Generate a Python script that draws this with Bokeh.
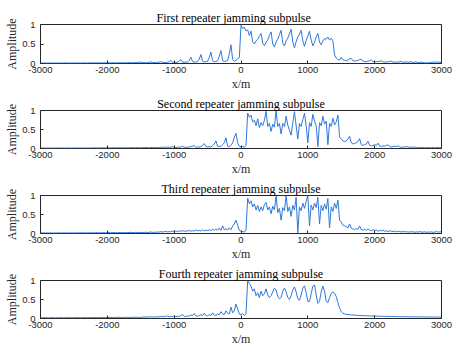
import numpy as np
from bokeh.plotting import figure
from bokeh.layouts import column
from bokeh.models import Range1d, FixedTicker
from bokeh.embed import file_html
from bokeh.resources import INLINE

# ---------------- data ----------------
titles = ["First repeater jamming subpulse", "Second repeater jamming subpulse",
          "Third repeater jamming subpulse", "Fourth repeater jamming subpulse"]
x_ticks = [-3000, -2000, -1000, 0, 1000, 2000, 3000]
x_tick_labels = ["-3000", "-2000", "-1000", "0", "1000", "2000", "3000"]
y_ticks = [0, 0.5, 1]
y_tick_labels = ["0", "0.5", "1"]
x_label = "x/m"
y_label = "Amplitude"

# sample positions (m): -3000 ... 3000, every 25 m
x_m = np.arange(-3000, 3001, 25)

amp_first = [
    0.010, 0.012, 0.010, 0.015, 0.010, 0.012, 0.010, 0.014, 0.010, 0.012,
    0.011, 0.010, 0.013, 0.010, 0.012, 0.015, 0.010, 0.012, 0.010, 0.014,
    0.012, 0.010, 0.015, 0.012, 0.010, 0.014, 0.012, 0.016, 0.010, 0.013,
    0.015, 0.012, 0.018, 0.012, 0.014, 0.017, 0.012, 0.016, 0.013, 0.018,
    0.014, 0.018, 0.013, 0.020, 0.015, 0.018, 0.014, 0.020, 0.016, 0.022,
    0.016, 0.020, 0.018, 0.024, 0.017, 0.022, 0.020, 0.028, 0.020, 0.030,
    0.040, 0.020, 0.025, 0.018, 0.022, 0.030, 0.045, 0.020, 0.028, 0.020,
    0.025, 0.035, 0.050, 0.022, 0.030, 0.025, 0.030, 0.050, 0.080, 0.030,
    0.035, 0.028, 0.035, 0.060, 0.100, 0.035, 0.030, 0.040, 0.035, 0.080,
    0.160, 0.050, 0.035, 0.040, 0.050, 0.110, 0.230, 0.060, 0.040, 0.050,
    0.060, 0.150, 0.290, 0.070, 0.045, 0.050, 0.070, 0.180, 0.330, 0.080,
    0.050, 0.060, 0.080, 0.250, 0.480, 0.100, 0.060, 0.080, 0.120, 0.150,
    0.98, 0.90, 0.93, 0.84, 0.86, 0.72, 0.83, 0.55, 0.50, 0.58,
    0.62, 0.70, 0.77, 0.52, 0.46, 0.55, 0.60, 0.72, 0.81, 0.50,
    0.42, 0.55, 0.62, 0.74, 0.85, 0.52, 0.45, 0.58, 0.65, 0.76,
    0.88, 0.55, 0.40, 0.56, 0.68, 0.75, 0.85, 0.58, 0.44, 0.60,
    0.70, 0.83, 0.60, 0.45, 0.55, 0.68, 0.77, 0.55, 0.48, 0.58,
    0.64, 0.62, 0.68, 0.60, 0.65, 0.58, 0.22, 0.14, 0.10, 0.09,
    0.16, 0.10, 0.08, 0.07, 0.09, 0.12, 0.13, 0.07, 0.06, 0.07,
    0.08, 0.10, 0.11, 0.06, 0.05, 0.05, 0.06, 0.07, 0.09, 0.05,
    0.04, 0.05, 0.05, 0.06, 0.07, 0.04, 0.035, 0.04, 0.045, 0.05,
    0.06, 0.035, 0.03, 0.04, 0.035, 0.045, 0.05, 0.03, 0.035, 0.045,
    0.03, 0.04, 0.045, 0.025, 0.035, 0.04, 0.02, 0.03, 0.035, 0.02,
    0.015, 0.02, 0.015, 0.02, 0.03, 0.035, 0.03, 0.04, 0.035, 0.03,
    0.025,
]

amp_second = [
    0.012, 0.010, 0.014, 0.011, 0.010, 0.013, 0.010, 0.012, 0.011, 0.010,
    0.013, 0.010, 0.012, 0.014, 0.010, 0.012, 0.011, 0.015, 0.010, 0.013,
    0.012, 0.015, 0.010, 0.014, 0.012, 0.016, 0.011, 0.013, 0.015, 0.012,
    0.016, 0.013, 0.015, 0.018, 0.012, 0.016, 0.014, 0.019, 0.013, 0.017,
    0.015, 0.019, 0.014, 0.018, 0.021, 0.015, 0.019, 0.017, 0.022, 0.016,
    0.020, 0.018, 0.023, 0.017, 0.021, 0.025, 0.018, 0.022, 0.026, 0.020,
    0.020, 0.025, 0.020, 0.030, 0.022, 0.020, 0.028, 0.025, 0.030, 0.022,
    0.030, 0.025, 0.035, 0.028, 0.030, 0.040, 0.030, 0.035, 0.030, 0.050,
    0.030, 0.025, 0.035, 0.030, 0.040, 0.060, 0.030, 0.035, 0.030, 0.040,
    0.050, 0.060, 0.080, 0.030, 0.040, 0.035, 0.050, 0.080, 0.130, 0.050,
    0.040, 0.050, 0.040, 0.080, 0.120, 0.200, 0.060, 0.050, 0.060, 0.100,
    0.150, 0.280, 0.060, 0.050, 0.080, 0.150, 0.300, 0.400, 0.150, 0.060,
    0.04, 0.05, 0.03, 0.08, 0.93, 0.82, 0.88, 0.70, 0.74, 0.60,
    0.78, 0.55, 0.68, 0.60, 0.74, 0.98, 0.58, 0.66, 0.45, 0.64,
    0.56, 1.00, 0.58, 0.66, 0.38, 0.66, 0.58, 0.85, 0.62, 0.48,
    0.35, 0.68, 0.97, 0.60, 0.25, 0.66, 0.58, 0.76, 0.93, 0.60,
    0.15, 0.68, 0.58, 0.90, 0.72, 0.60, 0.05, 0.68, 0.60, 0.85,
    0.64, 0.72, 0.10, 0.66, 0.58, 0.80, 0.62, 0.70, 0.88, 0.30,
    0.25, 0.20, 0.18, 0.20, 0.25, 0.32, 0.15, 0.12, 0.13, 0.15,
    0.18, 0.26, 0.10, 0.08, 0.10, 0.12, 0.19, 0.08, 0.07, 0.08,
    0.10, 0.08, 0.14, 0.06, 0.05, 0.07, 0.06, 0.08, 0.10, 0.05,
    0.04, 0.05, 0.06, 0.05, 0.07, 0.04, 0.03, 0.045, 0.035, 0.05,
    0.04, 0.03, 0.045, 0.025, 0.04, 0.03, 0.02, 0.035, 0.025, 0.03,
    0.02, 0.025, 0.03, 0.02, 0.025, 0.03, 0.02, 0.025, 0.03, 0.02,
    0.02,
]

amp_third = [
    0.015, 0.012, 0.018, 0.013, 0.016, 0.012, 0.017, 0.014, 0.012, 0.016,
    0.013, 0.017, 0.012, 0.015, 0.018, 0.013, 0.016, 0.012, 0.017, 0.014,
    0.016, 0.013, 0.019, 0.014, 0.017, 0.020, 0.014, 0.018, 0.015, 0.019,
    0.017, 0.021, 0.015, 0.019, 0.022, 0.016, 0.020, 0.018, 0.023, 0.017,
    0.020, 0.024, 0.018, 0.022, 0.026, 0.019, 0.024, 0.021, 0.027, 0.022,
    0.025, 0.022, 0.028, 0.024, 0.030, 0.026, 0.023, 0.031, 0.026, 0.029,
    0.025, 0.030, 0.020, 0.035, 0.025, 0.030, 0.040, 0.028, 0.035, 0.030,
    0.040, 0.035, 0.050, 0.040, 0.045, 0.060, 0.040, 0.050, 0.045, 0.060,
    0.055, 0.070, 0.050, 0.065, 0.060, 0.080, 0.055, 0.070, 0.060, 0.085,
    0.060, 0.075, 0.065, 0.090, 0.070, 0.080, 0.065, 0.100, 0.070, 0.085,
    0.080, 0.100, 0.075, 0.110, 0.085, 0.120, 0.090, 0.140, 0.080, 0.200,
    0.100, 0.120, 0.090, 0.150, 0.100, 0.200, 0.250, 0.350, 0.220, 0.080,
    0.06, 0.05, 0.04, 0.08, 0.93, 0.78, 0.86, 0.70, 0.78, 0.62,
    0.74, 0.58, 0.70, 0.60, 0.76, 0.82, 0.62, 0.70, 0.52, 0.72,
    0.62, 1.00, 0.55, 0.66, 0.35, 0.68, 0.60, 1.00, 0.58, 0.70,
    0.45, 0.74, 0.62, 0.95, 0.02, 0.70, 0.60, 0.80, 0.66, 0.85,
    1.00, 0.20, 0.75, 0.62, 0.80, 0.68, 0.95, 0.25, 0.74, 0.60,
    0.78, 0.64, 0.92, 0.15, 0.70, 0.58, 0.80, 0.66, 0.88, 0.35,
    0.30, 0.22, 0.20, 0.18, 0.15, 0.25, 0.14, 0.12, 0.10, 0.13,
    0.11, 0.20, 0.10, 0.09, 0.11, 0.08, 0.12, 0.09, 0.07, 0.10,
    0.08, 0.09, 0.06, 0.08, 0.07, 0.09, 0.06, 0.07, 0.05, 0.07,
    0.06, 0.05, 0.065, 0.045, 0.06, 0.05, 0.04, 0.055, 0.04, 0.05,
    0.035, 0.045, 0.04, 0.05, 0.03, 0.045, 0.035, 0.05, 0.04, 0.035,
    0.045, 0.03, 0.04, 0.035, 0.045, 0.03, 0.04, 0.05, 0.035, 0.045,
    0.04,
]

amp_fourth = [
    0.020, 0.015, 0.025, 0.018, 0.022, 0.016, 0.024, 0.019, 0.021, 0.017,
    0.023, 0.018, 0.025, 0.020, 0.017, 0.024, 0.019, 0.026, 0.021, 0.018,
    0.025, 0.020, 0.027, 0.022, 0.019, 0.026, 0.021, 0.028, 0.023, 0.020,
    0.027, 0.022, 0.029, 0.024, 0.021, 0.028, 0.023, 0.030, 0.025, 0.022,
    0.029, 0.024, 0.031, 0.026, 0.023, 0.030, 0.025, 0.033, 0.027, 0.024,
    0.032, 0.027, 0.035, 0.029, 0.026, 0.034, 0.028, 0.037, 0.030, 0.027,
    0.030, 0.040, 0.030, 0.045, 0.035, 0.040, 0.050, 0.035, 0.045, 0.040,
    0.050, 0.040, 0.055, 0.045, 0.060, 0.050, 0.070, 0.045, 0.060, 0.050,
    0.070, 0.050, 0.060, 0.055, 0.080, 0.100, 0.060, 0.050, 0.070, 0.060,
    0.090, 0.080, 0.130, 0.070, 0.060, 0.080, 0.100, 0.070, 0.140, 0.080,
    0.070, 0.100, 0.080, 0.150, 0.090, 0.080, 0.120, 0.100, 0.180, 0.120,
    0.100, 0.200, 0.140, 0.120, 0.300, 0.150, 0.200, 0.380, 0.250, 0.120,
    0.10, 0.13, 0.08, 0.12, 1.00, 0.92, 0.85, 0.72, 0.78, 0.60,
    0.68, 0.55, 0.72, 0.60, 0.65, 0.78, 0.62, 0.55, 0.60, 0.70,
    0.80, 0.75, 0.58, 0.52, 0.55, 0.72, 0.80, 0.70, 0.55, 0.50,
    0.60, 0.75, 0.83, 0.70, 0.52, 0.48, 0.62, 0.80, 0.86, 0.68,
    0.45, 0.45, 0.65, 0.85, 0.88, 0.62, 0.40, 0.45, 0.70, 0.85,
    0.72, 0.45, 0.42, 0.55, 0.66, 0.70, 0.66, 0.58, 0.42, 0.28,
    0.18, 0.14, 0.12, 0.11, 0.105, 0.10, 0.095, 0.09, 0.088, 0.085,
    0.082, 0.080, 0.078, 0.076, 0.074, 0.072, 0.070, 0.068, 0.066, 0.065,
    0.064, 0.062, 0.061, 0.060, 0.059, 0.058, 0.057, 0.056, 0.055, 0.054,
    0.053, 0.052, 0.051, 0.050, 0.050, 0.049, 0.048, 0.048, 0.047, 0.046,
    0.046, 0.045, 0.045, 0.044, 0.044, 0.043, 0.043, 0.042, 0.042, 0.041,
    0.041, 0.040, 0.040, 0.040, 0.039, 0.039, 0.038, 0.038, 0.038, 0.037,
    0.037,
]

series = [amp_first, amp_second, amp_third, amp_fourth]

# ---------------- style ----------------
LINE = "#2f78d8"
AX = "#262626"
SERIF = "Liberation Serif"
SANS = "Liberation Sans"


def style_axis(ax, ticks, labels):
    ax.ticker = FixedTicker(ticks=ticks)
    ax.major_label_overrides = {t: l for t, l in zip(ticks, labels)}
    ax.minor_tick_line_color = None
    ax.major_tick_in = 3
    ax.major_tick_out = 0
    ax.major_tick_line_color = AX
    ax.axis_line_color = None
    ax.major_label_text_font = SANS
    ax.major_label_text_color = AX
    ax.major_label_text_font_size = "9.5px"
    ax.axis_label_text_font = SERIF
    ax.axis_label_text_font_size = "12px"
    ax.axis_label_text_font_style = "normal"
    ax.axis_label_text_color = AX


figs = []
for k, (ttl, amp) in enumerate(zip(titles, series)):
    top_border = 24 if k == 0 else 15
    bottom_border = 31
    frame_h = 39
    p = figure(width=466, height=top_border + frame_h + bottom_border,
               output_backend="svg", toolbar_location=None,
               x_range=Range1d(-3000, 3000), y_range=Range1d(0, 1),
               min_border_left=40, min_border_right=25,
               min_border_top=top_border, min_border_bottom=bottom_border)
    p.line(x_m, amp, line_color=LINE, line_width=1)
    p.xgrid.visible = False
    p.ygrid.visible = False
    p.outline_line_color = AX
    p.outline_line_alpha = 1
    p.background_fill_color = "white"
    p.border_fill_color = "white"

    p.title.text = ttl
    p.title.text_font = SERIF
    p.title.text_font_size = "12px"
    p.title.text_font_style = "normal"
    p.title.text_color = "black"
    p.title.standoff = 0
    if k == 0:
        p.title.align = "left"
        p.title.offset = 116
    else:
        p.title.align = "center"

    xa = p.xaxis[0]
    style_axis(xa, x_ticks, x_tick_labels)
    xa.major_label_standoff = 3
    xa.axis_label = x_label
    xa.axis_label_standoff = 1

    ya = p.yaxis[0]
    style_axis(ya, y_ticks, y_tick_labels)
    ya.major_label_standoff = 5
    ya.axis_label = y_label
    ya.axis_label_standoff = 0

    figs.append(p)

layout = column(*figs, spacing=0)
open("out.html", "w").write(file_html(layout, INLINE))
